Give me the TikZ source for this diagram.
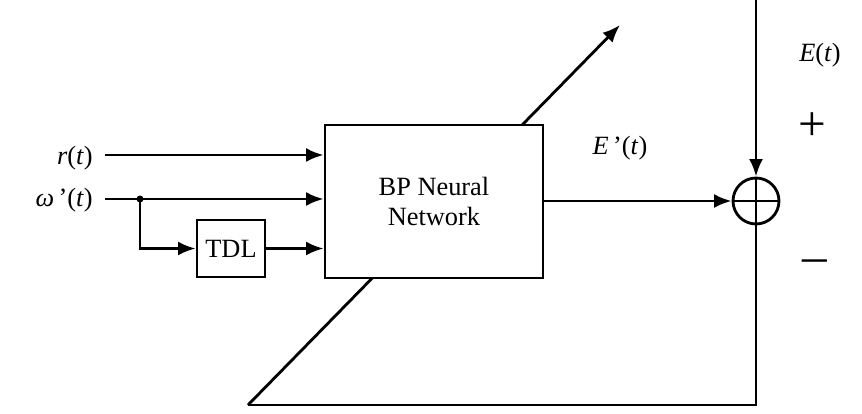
\documentclass[tikz,border=0pt]{standalone}
\usepackage{fontspec}
\setmainfont{Liberation Serif}
\usetikzlibrary{arrows.meta}
\begin{document}
\begin{tikzpicture}[x=0.02cm,y=-0.02cm,
  line width=1.6pt,
  arr/.style={-{Latex[length=10pt,width=8pt]}},
  lbl/.style={font=\fontsize{15}{17}\selectfont},
  box/.style={draw,fill=white,inner sep=0pt}]
\useasboundingbox (0,0) rectangle (862,413);
% diagonal behind box
\coordinate (d0) at (248,405);
\coordinate (d1) at (620,25);
\draw[arr] (d0) -- (d1);
\node[box,minimum width=218*0.02cm,minimum height=153*0.02cm,align=center,lbl] (bp) at (434,201.5) {BP Neural\\Network};
\node[box,minimum width=68*0.02cm,minimum height=57*0.02cm,lbl] (tdl) at (231,248.5) {TDL};
\node[draw,circle,minimum size=46*0.02cm,inner sep=0pt] (sum) at (756,201) {};
\draw (sum.north)--(sum.south) (sum.west)--(sum.east);
\node[lbl,anchor=east] (r) at (100,158) {\textit{r}(\textit{t})};
\node[lbl,anchor=east] (w) at (100,200) {\textit{ω}\,'(\textit{t})};
\node[lbl] (ep) at (620,148) {\textit{E}\,'(\textit{t})};
\node[lbl] (e) at (820,55) {\textit{E}(\textit{t})};
\node[font=\fontsize{28}{30}\selectfont] (plus) at (812,127) {+};
\node[font=\fontsize{28}{30}\selectfont] (minus) at (815,266) {–};
\coordinate (rin) at (105,155);
\coordinate (win) at (105,199);
\coordinate (dot) at (140,199);
\coordinate (top) at (756,0);
\coordinate (br) at (756,405);
\draw[arr] (rin) -- (rin -| bp.west);
\draw[arr] (win) -- (win -| bp.west);
\fill (dot) circle (3.5);
\draw[arr] (dot) |- (tdl.west);
\draw[arr] (tdl.east) -- (tdl.east -| bp.west);
\draw[arr] (bp.east |- sum.west) -- (sum.west);
\draw[arr] (top) -- (sum.north);
\draw (sum.south) -- (br) -- (d0);
\end{tikzpicture}
\end{document}
